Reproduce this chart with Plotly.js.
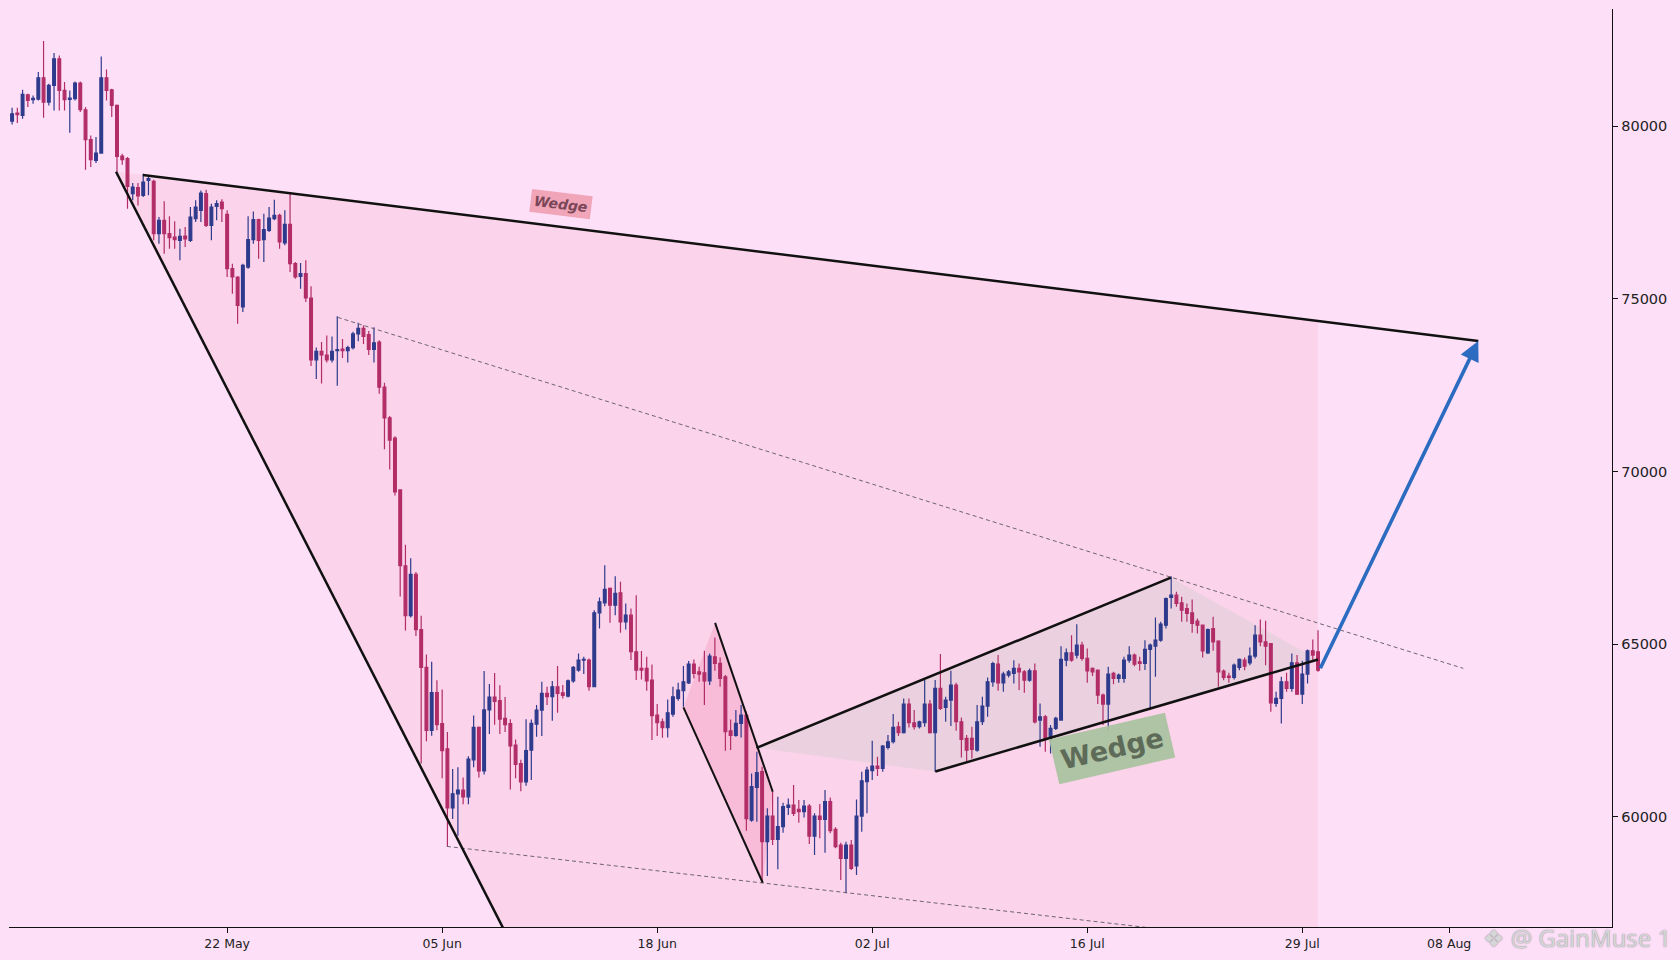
<!DOCTYPE html>
<html>
<head>
<meta charset="utf-8">
<script src="https://cdn.plot.ly/plotly-3.0.1.min.js"></script>
<style>
  html, body { margin: 0; padding: 0; background: #fde0f8; }
  #chart { width: 1680px; height: 960px; }
</style>
</head>
<body>
<div id="chart"></div>
<script>
// ---- candle data (8h bars) ----
const openP = [
80145,80376,80309,80907,80762,80781,81399,80695,81177,81949,
81032,80772,80791,81245,80473,79605,79007,79219,81399,81052,
80598,79132,79055,78042,78216,77994,78428,78399,76884,77270,
76884,76788,76691,76817,76691,77318,77560,78042,77126,77675,
77800,77444,75871,75630,74762,75919,76710,77289,76711,76980,
77318,77415,76614,77154,76016,75649,75726,75022,73233,73479,
73372,73233,73500,73540,73500,73586,73982,74142,73960,73532,
73746,72440,71552,70963,69464,67270,65825,67024,65418,64326,
62506,63598,62699,61971,60258,60665,60772,60580,61650,62592,
61329,63095,63470,63363,62849,62699,62078,61543,61008,61933,
62685,63090,63573,63476,63766,63592,63495,63939,64248,64538,
64538,63766,65907,66197,66612,66129,66486,65647,65840,64779,
64296,64296,63959,62946,62753,62579,62975,63428,63650,63881,
64422,64200,64171,63939,64634,64441,64055,62492,62357,62705,
62946,59907,60852,61306,59280,60023,59348,59714,60274,60341,
60216,60148,60312,59444,60023,59926,60438,59637,59183,58798,
59183,58576,60023,61016,61335,61470,61403,62010,62174,62608,
62435,63264,62724,62608,62724,63264,62435,63718,63168,63380,
63814,62753,62271,62271,61933,62753,63206,63910,64421,63881,
64103,64151,64296,64199,63958,64228,62800,62897,62270,62559,
62800,64537,64749,64682,64971,64585,64296,64248,63524,63264,
64151,64006,64006,64537,64682,64489,64440,64846,64942,65116,
65550,66350,66418,66196,66032,65907,65666,65550,64749,65453,
65087,64219,64074,64035,64325,64537,64460,64653,65260,65067,
65019,63283,63427,63910,63717,64460,63553,64132,64807,64778];
const highP = [
80531,80531,81052,80936,80888,81563,82460,81225,82113,82045,
81273,81032,81293,81293,80550,79730,79682,82016,81640,81081,
80627,79199,79103,78351,78351,78621,78544,78447,77367,77820,
77386,77241,77029,77077,77656,77849,78138,78158,77752,77849,
77878,77560,76016,75649,76016,77386,77530,77318,77463,77656,
77868,77463,77560,78061,76064,76035,76112,75360,73586,73746,
73939,73907,74496,73832,73639,74046,74303,74228,74067,74175,
73800,72569,71605,71016,69486,67880,67484,67088,65825,64701,
64487,63951,63684,62453,61382,61436,61136,61757,62934,62613,
64219,63844,64166,63812,63470,62827,62239,61650,62827,62820,
63235,63910,63766,63930,64364,63814,63978,64364,64731,64634,
64586,65984,66351,67287,66640,66969,66804,66177,66033,66419,
64798,64634,64412,63264,62850,63399,63766,63881,64364,64509,
64557,64345,64808,64731,65194,64615,64103,62820,63090,63235,
63050,61257,61885,61451,60245,60727,60582,60409,60534,60920,
60486,60486,60370,60100,60370,60776,60563,59695,59251,59280,
59328,60505,61306,61451,62203,61740,62078,62367,62975,62753,
63428,63428,63090,62782,63959,63380,63959,64711,63476,64229,
63882,62878,62367,62608,63235,63476,64036,64489,64682,64199,
64248,64537,64441,64248,64296,64441,63283,62946,62656,62897,
64942,64875,65261,65579,65068,64875,64325,64267,63572,64344,
64199,64151,64634,64942,64730,64634,65116,65019,65772,65646,
66350,66968,66514,66370,66177,66293,65743,65550,65453,65791,
65116,64267,64170,64440,64585,64614,64903,65550,65714,65675,
65019,63620,64055,64170,64730,64682,64518,64846,65135,65405];
const lowP = [
80048,80087,80212,80550,80646,80743,80241,80598,80453,80453,
80453,79807,80743,80405,78736,78814,78929,79199,80743,80260,
78669,78881,77608,77849,77704,77945,77994,76691,76594,76305,
76450,76450,76112,76498,76643,77222,77222,77077,76691,77270,
77222,75630,75148,74280,74617,75871,76595,76161,76064,76932,
77270,76450,76546,75774,75582,75293,74907,73050,72676,72548,
73158,73158,72483,73286,73158,73532,73768,73693,73372,73158,
72248,70642,70053,69304,66381,65396,65771,65236,61543,62185,
62345,62506,61115,59134,59937,59455,60365,60365,61436,61136,
61222,62399,62667,62399,62453,60794,61115,60740,60901,61065,
62319,62338,63235,62782,63013,63428,63457,63881,64200,64132,
63650,63766,65454,66100,65618,65840,65329,65425,64538,63959,
63978,63650,62222,62338,62290,62300,62898,63360,63187,63843,
64007,63910,63235,63814,64229,63766,61914,61933,62319,62300,
59600,59859,59859,58122,58286,59183,58479,59540,60052,60023,
59830,59984,59212,58894,59377,58961,59521,59087,58170,57785,
58460,58315,59570,60100,61065,61181,61306,61952,62126,62338,
62415,62589,62531,62560,62608,62415,61306,63090,62753,62627,
62492,61721,61566,61692,61885,62656,62897,63765,63649,63620,
64036,63862,63669,63591,63910,62704,62029,61884,61836,62511,
62781,64363,64489,64585,64518,63881,64074,63264,62656,62492,
63842,63881,63881,64460,64363,64228,64248,63109,64054,65068,
65453,66032,66080,65646,65646,65328,65309,64614,64711,64807,
63765,63958,63881,63977,64247,64247,64392,64585,64942,64392,
63042,63186,62704,63620,63620,63524,63264,63862,64537,64199];
const closeP = [
80357,80328,80917,80743,80801,81399,80695,81177,81949,81032,
80762,80810,81245,80473,79605,79026,79219,81399,81032,80598,
79122,79026,78254,78235,77975,78380,78476,76884,77270,76884,
76768,76711,76807,76730,77367,77656,78061,77126,77656,77752,
77608,75871,75630,74810,75968,76710,77289,76691,77000,77338,
77415,76643,77154,76016,75630,75726,75022,73233,73479,73372,
73233,73479,73530,73500,73586,73982,74142,73907,73532,73725,
72440,71552,70909,69411,67270,65825,67024,65418,64326,62506,
63598,62667,61917,60258,60665,60772,60580,61671,62592,61329,
63095,63470,63341,62827,62667,62057,61521,61008,61917,62705,
63090,63573,63476,63766,63573,63515,63939,64325,64538,64557,
63766,65907,66226,66583,66129,66467,65647,65840,64779,64248,
64248,63939,62927,62724,62579,63013,63476,63669,63910,64422,
64152,64132,63939,64653,64441,64007,62463,62357,62705,62946,
59950,60872,61277,59280,60023,59348,59714,60293,60341,60100,
60148,60312,59444,60023,59926,60438,59598,59135,58798,59183,
58508,60023,61045,61354,61470,61403,62049,62174,62589,62435,
63264,62724,62608,62753,63264,62435,63718,63139,63380,63814,
62753,62242,61933,61952,62753,63206,63910,64440,63881,64132,
64199,64296,64199,63958,64228,62752,62897,62270,62559,62849,
64556,64749,64537,64971,64585,64228,64199,63524,63264,64132,
64006,64103,64537,64682,64421,64440,64846,64971,65116,65579,
66322,66418,66177,65984,65888,65598,65550,64807,65424,65067,
64199,64035,64035,64392,64556,64363,64653,65260,65067,64942,
63302,63427,63910,63717,64460,63553,64132,64807,64682,64247];

// ---- axis ticks (bar index -> label) ----
const tickIdx   = [41, 82, 123, 164, 205, 246, 274];
const tickText  = ['22 May', '05 Jun', '18 Jun', '02 Jul', '16 Jul', '29 Jul', '08 Aug'];
const priceTicks = [60000, 65000, 70000, 75000, 80000];

// ---- drawn pattern lines (bar index, price) ----
const topLineX = [24.93, 279.55],  topLineY = [78585, 73778];
const diagX    = [19.82, 96.25],   diagY    = [78677, 56000];
const upDashX  = [62.1, 276.7],    upDashY  = [74461, 64298];
const loDashX  = [82.9, 240.0],    loDashY  = [59143, 56380];
const flagAX   = [134.04, 145.03], flagAY   = [65617, 60726];
const flagBX   = [128.0, 143.13],  flagBY   = [63168, 58092];
const wedgeUpX = [141.93, 220.94], wedgeUpY = [61996, 66925];
const wedgeLoX = [176.03, 249.0],  wedgeLoY = [61313, 64557];
const arrowX   = [249.3, 279.55],  arrowY   = [64260, 73778];
const lastBar  = 249;
const yMin = 56810, yMax = 83390;

const idx = openP.map((_, i) => i);

function interp(xs, ys, x) {
  return ys[0] + (ys[1] - ys[0]) * (x - xs[0]) / (xs[1] - xs[0]);
}
function path(pts) {
  return 'M ' + pts.map(p => p[0] + ',' + p[1]).join(' L ') + ' Z';
}

const bigPoly = [
  [diagX[0], diagY[0]], [topLineX[0], topLineY[0]],
  [lastBar, interp(topLineX, topLineY, lastBar)],
  [lastBar, 56000], [diagX[1], 56000]
];
const flagPoly = [
  [flagBX[0], flagBY[0]], [flagAX[0], flagAY[0]],
  [flagAX[1], flagAY[1]], [flagBX[1], flagBY[1]]
];
const wedgePoly = [
  [wedgeUpX[0], wedgeUpY[0]], [wedgeUpX[1], wedgeUpY[1]],
  [wedgeLoX[1], wedgeLoY[1]], [wedgeLoX[0], wedgeLoY[0]]
];

const candle = {
  type: 'candlestick',
  x: idx, open: openP, high: highP, low: lowP, close: closeP,
  increasing: { line: { color: '#2e3a8c', width: 1.2 }, fillcolor: '#2e3a8c' },
  decreasing: { line: { color: '#b22d67', width: 1.2 }, fillcolor: '#b22d67' },
  whiskerwidth: 0,
  hoverinfo: 'skip',
  showlegend: false
};

function seg(xs, ys, color, width, dash) {
  return { type: 'scatter', mode: 'lines', x: xs, y: ys,
    line: { color: color, width: width, dash: dash || 'solid' },
    hoverinfo: 'skip', showlegend: false };
}

const data = [
  candle,
  seg(upDashX, upDashY, '#6e6470', 1, '4px,3px'),
  seg(loDashX, loDashY, '#6e6470', 1, '4px,3px'),
  seg(topLineX, topLineY, '#111111', 2.5),
  seg(diagX, diagY, '#111111', 2.5),
  seg(flagAX, flagAY, '#111111', 2),
  seg(flagBX, flagBY, '#111111', 2),
  seg(wedgeUpX, wedgeUpY, '#111111', 2.5),
  seg(wedgeLoX, wedgeLoY, '#111111', 2.5)
];

const layout = {
  width: 1680, height: 960,
  paper_bgcolor: '#fde0f8',
  plot_bgcolor: '#fde0f8',
  margin: { l: 9, r: 68, t: 9, b: 33, autoexpand: false },
  showlegend: false,
  hovermode: false,
  boxgap: 0.25,
  font: { family: 'DejaVu Sans, sans-serif', color: '#222222' },
  xaxis: {
    type: 'linear', range: [-0.59, 305.05],
    showline: true, linecolor: '#111111', linewidth: 1.3,
    ticks: 'outside', ticklen: 5, tickcolor: '#111111', tickwidth: 1,
    tickvals: tickIdx, ticktext: tickText,
    tickfont: { size: 12.5, color: '#222222' },
    showgrid: false, zeroline: false, fixedrange: true,
    rangeslider: { visible: false }
  },
  yaxis: {
    side: 'right', range: [yMin, yMax],
    showline: true, linecolor: '#111111', linewidth: 1.3,
    ticks: 'outside', ticklen: 5, tickcolor: '#111111', tickwidth: 1,
    tickvals: priceTicks, ticktext: priceTicks.map(String),
    tickfont: { size: 14.5, color: '#222222' },
    showgrid: false, zeroline: false, fixedrange: true
  },
  shapes: [
    { type: 'path', xref: 'x', yref: 'y', layer: 'below', path: path(bigPoly),
      fillcolor: '#fbd3ea', line: { width: 0 } },
    { type: 'path', xref: 'x', yref: 'y', layer: 'below', path: path(flagPoly),
      fillcolor: 'rgba(245,160,195,0.45)', line: { width: 0 } },
    { type: 'path', xref: 'x', yref: 'y', layer: 'below', path: path(wedgePoly),
      fillcolor: 'rgba(205,205,205,0.35)', line: { width: 0 } }
  ],
  annotations: [
    { xref: 'x', yref: 'y', axref: 'x', ayref: 'y',
      x: arrowX[1], y: arrowY[1], ax: arrowX[0], ay: arrowY[0],
      text: '', showarrow: true, arrowhead: 2, arrowsize: 1.1, arrowwidth: 3.6,
      arrowcolor: '#2b6bc0' },
    { xref: 'x', yref: 'y', x: 104.57, y: 77746, text: 'Wedge',
      showarrow: false, textangle: 7,
      font: { family: 'DejaVu Sans', size: 14, color: '#7a4658', weight: 'bold', style: 'italic' },
      bgcolor: 'rgba(238,150,168,0.8)', borderpad: 3 },
    { xref: 'x', yref: 'y', x: 209.7, y: 61990, text: 'Wedge',
      showarrow: false, textangle: -13,
      font: { family: 'DejaVu Sans', size: 27, color: '#5d6b58', weight: 'bold' },
      bgcolor: 'rgba(168,194,158,0.92)', borderpad: 7 },
    { xref: 'paper', yref: 'paper', x: 0.918, y: -0.011, xanchor: 'left', yanchor: 'middle',
      text: '❖ @ GainMuse 1', showarrow: false,
      font: { family: 'Open Sans, DejaVu Sans', size: 24, color: '#d6d6d8',
              shadow: '0px 0px 1.5px #7a7a7a' } }
  ]
};

Plotly.newPlot('chart', data, layout, { displayModeBar: false, staticPlot: true });
</script>
</body>
</html>
